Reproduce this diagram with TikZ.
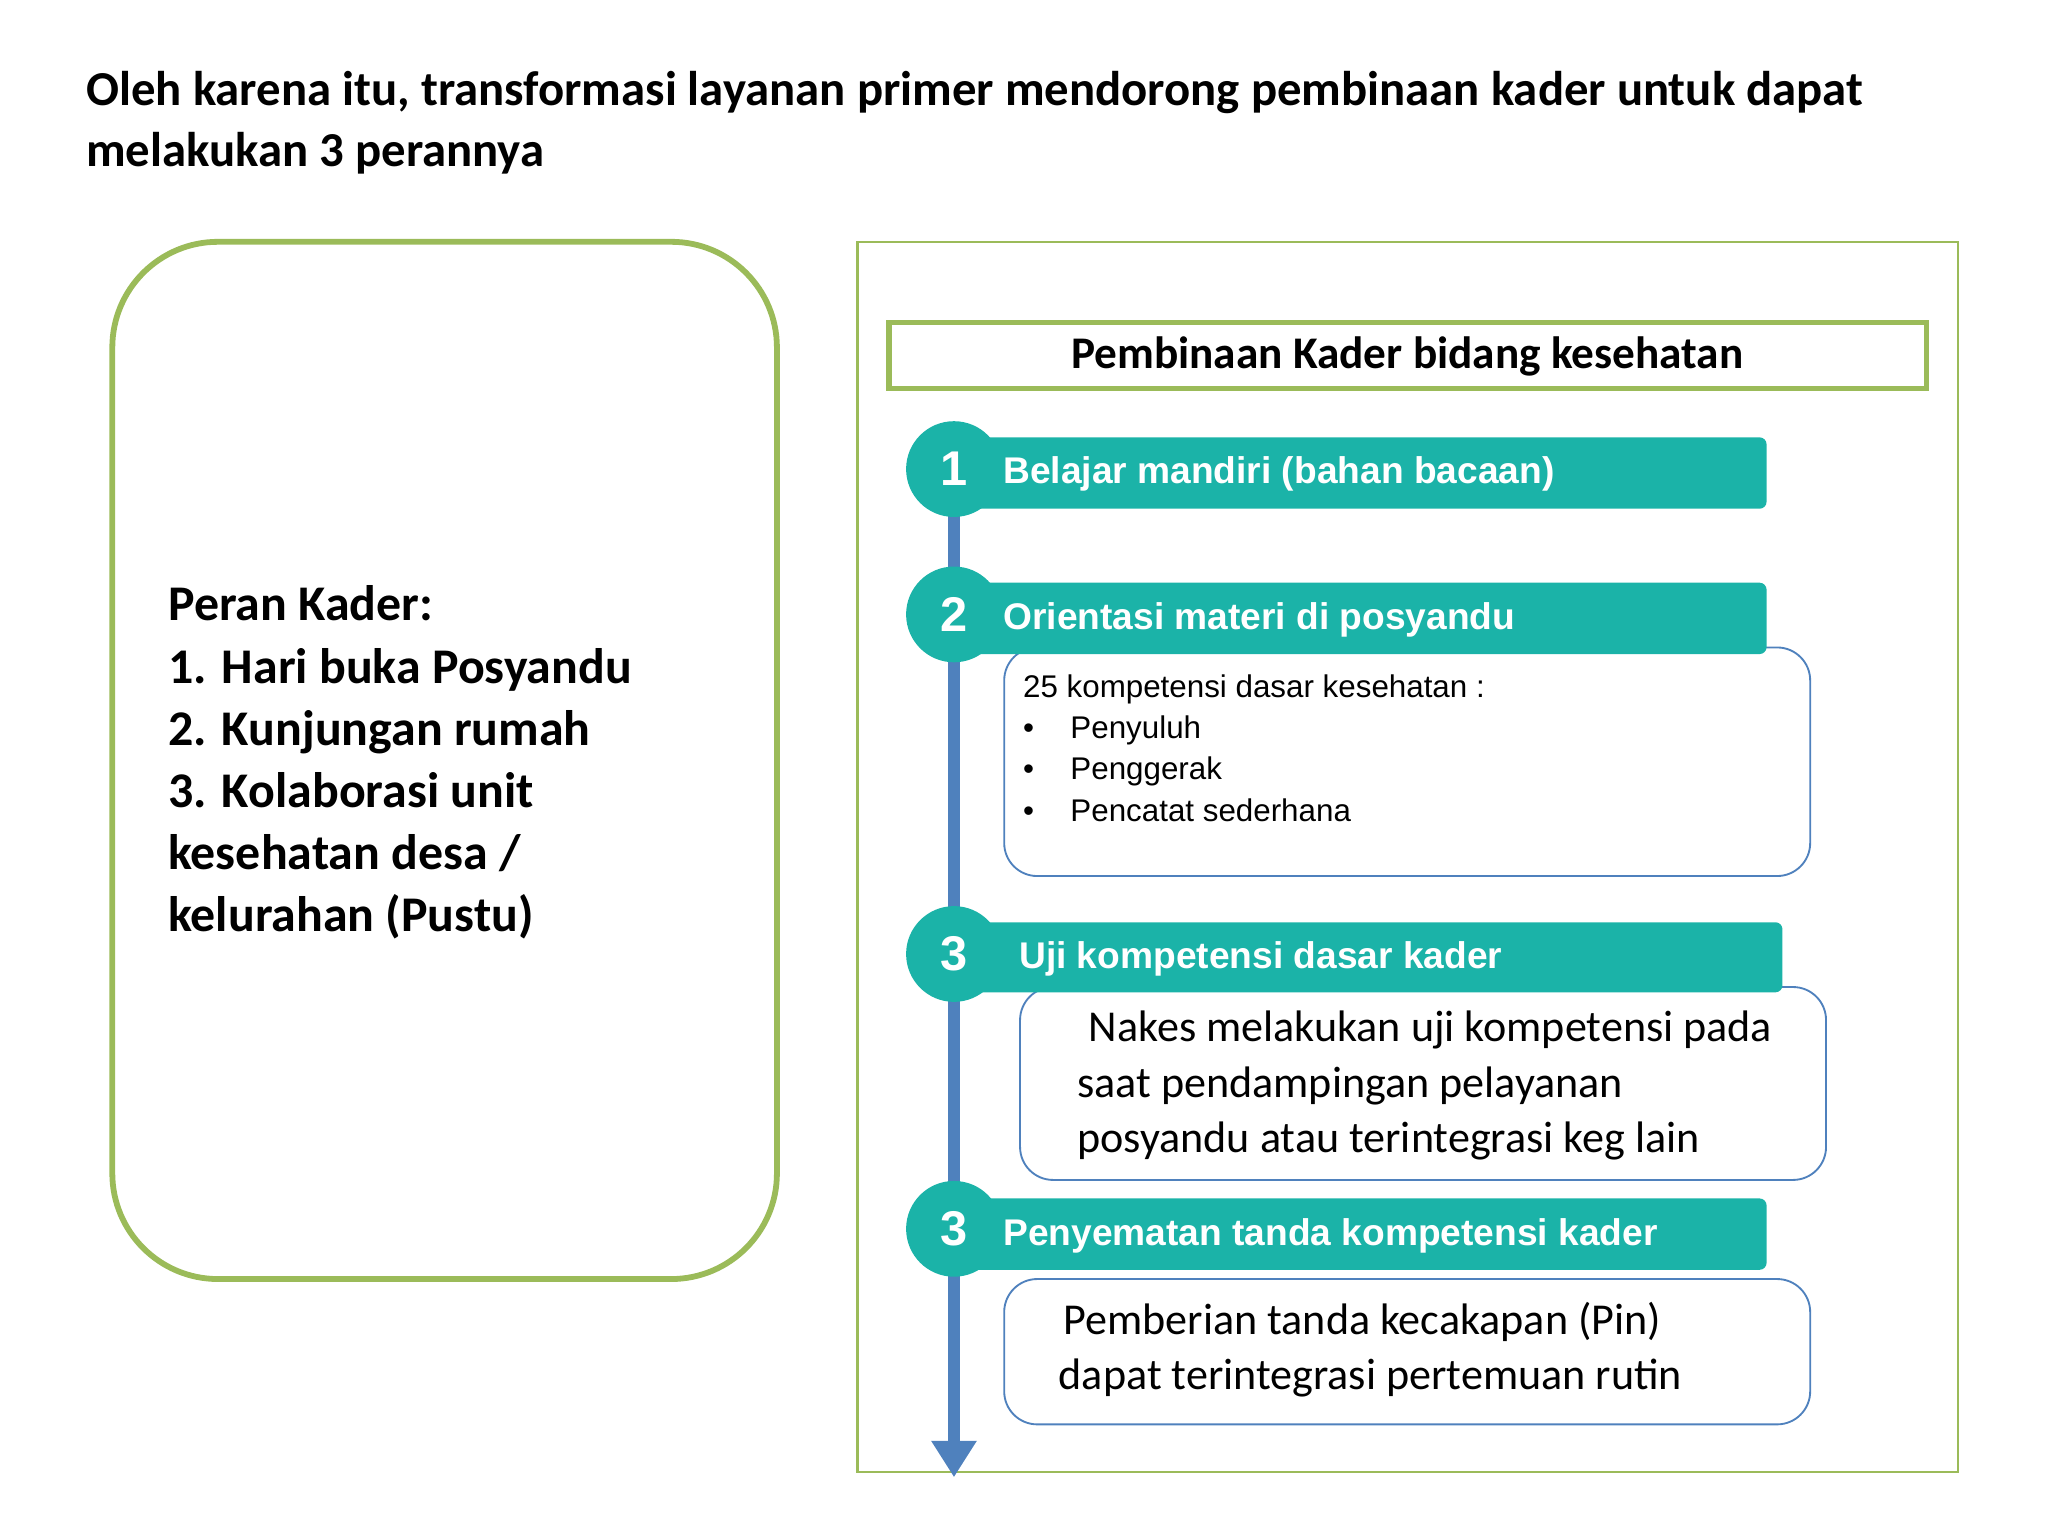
\documentclass[tikz,border=0pt]{standalone}
\usepackage{fontspec}
\setmainfont{Carlito}
\newfontfamily\arialf{Liberation Sans}
\usetikzlibrary{arrows.meta}
\definecolor{grn}{HTML}{9BBB59}
\definecolor{teal1}{HTML}{1BB3A8}
\definecolor{blu}{HTML}{4F81BD}
\tikzset{
 bar/.style={fill=teal1,draw=none,rounded corners=3pt},
 num/.style={circle,fill=teal1,minimum size=1.45cm,inner sep=0pt,text=white,font=\arialf\bfseries\fontsize{21}{24}\selectfont},
 bartxt/.style={anchor=west,text=white,font=\arialf\bfseries\fontsize{16}{19}\selectfont,inner sep=0pt},
 detbox/.style={draw=blu,line width=0.8pt,rounded corners=0.5cm,fill=white},
}
\begin{document}
\begin{tikzpicture}[x=0.02cm,y=-0.02cm]
\useasboundingbox (0,0) rectangle (1550,1162.5);
\node[anchor=west,align=left,font=\bfseries\fontsize{21}{26.5}\selectfont,inner sep=0pt] (title) at (65,93)
 {Oleh karena itu, transformasi layanan primer mendorong pembinaan kader untuk dapat\\melakukan 3 perannya};
\draw[grn,line width=2.5pt,rounded corners=1.6cm] (85,183) rectangle (588,968);
\node[anchor=north west,align=left,font=\bfseries\fontsize{21.5}{26.8}\selectfont,inner sep=0pt] (peran) at (127,443)
 {Peran Kader:\\1. Hari buka Posyandu\\2. Kunjungan rumah\\3. Kolaborasi unit\\kesehatan desa /\\kelurahan (Pustu)};
\draw[grn,line width=1pt] (649,183) rectangle (1482,1114);
\draw[grn,line width=2.5pt] (673,244) rectangle (1458,294);
\node[font=\bfseries\fontsize{19.5}{22}\selectfont] (hdr) at (1065,270) {Pembinaan Kader bidang kesehatan};
\coordinate (top) at (722,380);
\coordinate (bot) at (722,1118);
\draw[blu,line width=5pt,-{Triangle[length=0.55cm,width=0.65cm]}] (top) -- (bot);
% detail boxes
\draw[detbox] (760,490) rectangle (1370,663);
\node[anchor=north west,align=left,inner sep=0pt,font=\arialf\fontsize{13.5}{17.8}\selectfont] (d2) at (774,510)
 {25 kompetensi dasar kesehatan :\\[-0pt]\hspace*{0pt}\textbullet\hspace{0.55cm}Penyuluh\\\textbullet\hspace{0.55cm}Penggerak\\\textbullet\hspace{0.55cm}Pencatat sederhana};
\draw[detbox] (772,747) rectangle (1382,893);
\node[anchor=north west,align=left,inner sep=0pt,font=\fontsize{19}{23.8}\selectfont] (d3) at (815,765)
 {\hspace*{5pt}Nakes melakukan uji kompetensi pada\\saat pendampingan pelayanan\\posyandu atau terintegrasi keg lain};
\draw[detbox] (760,968) rectangle (1370,1078);
\node[anchor=north west,align=left,inner sep=0pt,font=\fontsize{19}{23.8}\selectfont] (d4) at (801,985)
 {\hspace*{2pt}Pemberian tanda kecakapan (Pin)\\dapat terintegrasi pertemuan rutin};
% bars
\fill[bar] (722,331) rectangle (1337,385);
\fill[bar] (722,441) rectangle (1337,495);
\fill[bar] (722,698) rectangle (1349,751);
\fill[bar] (722,907) rectangle (1337,961);
\node[bartxt] (t1) at (759,359) {Belajar mandiri (bahan bacaan)};
\node[bartxt] (t2) at (759,469) {Orientasi materi di posyandu};
\node[bartxt] (t3) at (771,726) {Uji kompetensi dasar kader};
\node[bartxt] (t4) at (759,935) {Penyematan tanda kompetensi kader};
\node[num] (n1) at (722,355) {1};
\node[num] (n2) at (722,465) {2};
\node[num] (n3) at (722,722) {3};
\node[num] (n4) at (722,930) {3};
\end{tikzpicture}
\end{document}
